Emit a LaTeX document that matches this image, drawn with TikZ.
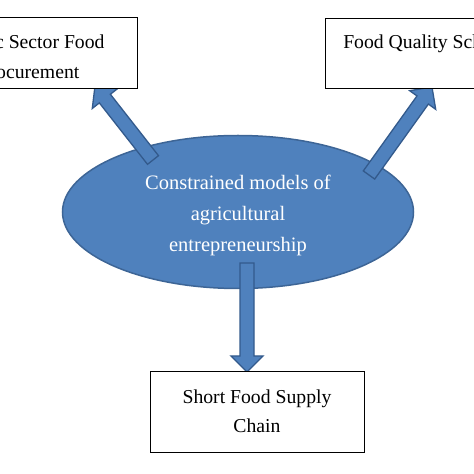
\documentclass[tikz,border=0pt]{standalone}
\usepackage{fontspec}
\setmainfont{Liberation Serif}
\usetikzlibrary{calc,shapes.geometric}

\definecolor{ovalblue}{HTML}{4F81BD}
\definecolor{ovalline}{HTML}{3D6596}
\definecolor{arrowline}{HTML}{335A8C}

% block arrow from #1 (tail) to #2 (tip)
\newcommand{\blockarrow}[2]{%
  \coordinate (ba) at ($(#2)!16pt!(#1)$);
  \draw[fill=ovalblue, draw=arrowline, line width=1.3pt, line join=miter]
    ($(#1)!7pt!90:(#2)$) -- ($(ba)!7pt!-90:(#1)$) -- ($(ba)!16pt!-90:(#1)$)
    -- (#2) -- ($(ba)!16pt!90:(#1)$) -- ($(ba)!7pt!90:(#1)$)
    -- ($(#1)!7pt!-90:(#2)$) -- cycle;}
% invisible strut to push a text block down
\newcommand{\lowerby}[1]{\rule{0pt}{#1}}

\begin{document}
\begin{tikzpicture}[x=1pt, y=1pt,
    box/.style={draw=black, line width=0.8pt, fill=white, align=center,
      inner sep=0pt, font=\fontsize{19.7}{29.5}\selectfont},
    oval/.style={ellipse, fill=ovalblue, draw=ovalline, line width=1.5pt,
      align=center, inner sep=0pt, text=white,
      font=\fontsize{20.5}{31}\selectfont}]
  \useasboundingbox (0,0) rectangle (474,474);
  \clip (0,0) rectangle (474,474);

  \node[oval, minimum width=351pt, minimum height=153pt] (model) at (238,262)
    {\lowerby{21pt}Constrained models of\\agricultural\\entrepreneurship};

  \coordinate (pubtail) at (153,314);
  \coordinate (pubtip) at (95,388);
  \coordinate (fqstail) at (369,299);
  \coordinate (fqstip) at (432,387);
  \coordinate (sfsctail) at (247,211);
  \coordinate (sfsctip) at (247,102);

  \blockarrow{pubtail}{pubtip}
  \blockarrow{fqstail}{fqstip}
  \blockarrow{sfsctail}{sfsctip}

  \node[box, minimum width=216pt, minimum height=71pt] (pub) at (29,421.5)
    {\lowerby{22pt}Public Sector Food\\Procurement};
  \node[box, minimum width=216pt, minimum height=70pt] (fqs) at (433,421)
    {\lowerby{20pt}Food Quality Schemes\hspace{6pt}\\\mbox{}};
  \node[box, minimum width=214pt, minimum height=81pt] (sfsc) at (257,62.5)
    {Short Food Supply\\Chain};
\end{tikzpicture}
\end{document}
